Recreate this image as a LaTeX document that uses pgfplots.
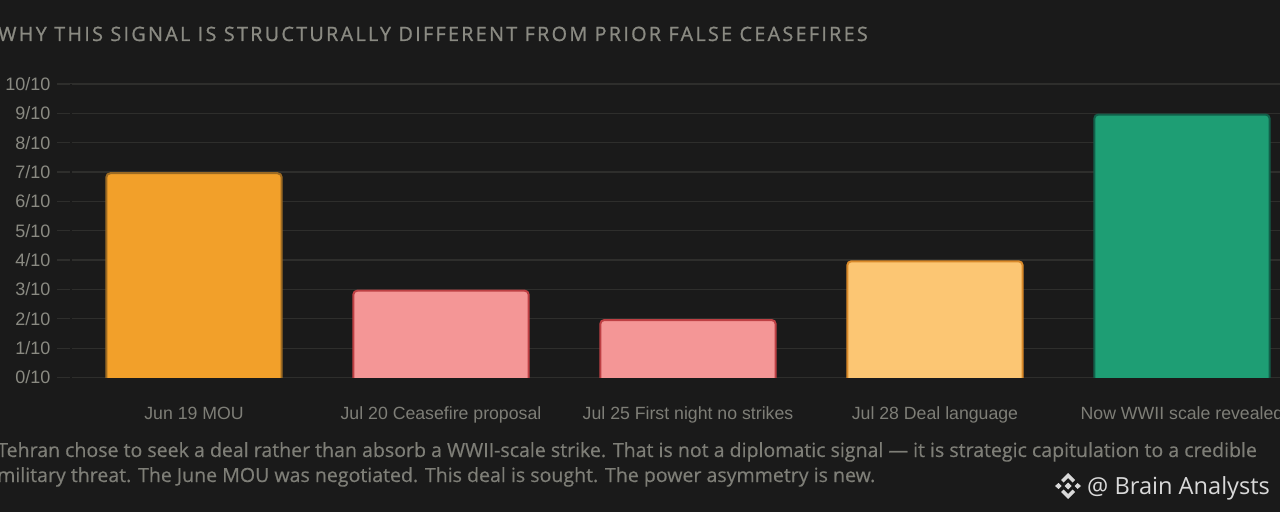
\documentclass[border=0pt]{standalone}
\usepackage{fontspec}
\usepackage{pgfplots}
\pgfplotsset{compat=1.18}
\setmainfont{Liberation Sans}
\newfontfamily\titlefont[LetterSpace=11.5,FakeBold=1]{Open Sans}
\newfontfamily\bodyfont[FakeBold=0.4]{Open Sans}
\newfontfamily\markfont{Open Sans}
\definecolor{bg}{HTML}{1A1A1A}
\definecolor{gridc}{HTML}{2E2E2C}
\definecolor{tickc}{HTML}{8A8A82}
\definecolor{labc}{HTML}{7E7E77}
\definecolor{orangef}{HTML}{F2A02A}
\definecolor{oranged}{HTML}{9C6A22}
\definecolor{pinkf}{HTML}{F49696}
\definecolor{pinkd}{HTML}{BE4044}
\definecolor{ambf}{HTML}{FCC673}
\definecolor{ambd}{HTML}{D98A2A}
\definecolor{greenf}{HTML}{1E9E74}
\definecolor{greend}{HTML}{12604A}
\pgfplotsset{bar/.style={line width=2pt,rounded corners=4pt,yshift=-1.2pt}}
\begin{document}
\begin{tikzpicture}[x=1pt,y=1pt]
\fill[bg] (0,0) rectangle (1280,512);
\path[use as bounding box,clip] (0,0) rectangle (1280,512);
\begin{axis}[
    at={(70.5pt,134.5pt)},
    anchor=south west,
    scale only axis,
    width=1209.5pt,
    height=293.5pt,
    xmin=-0.5, xmax=4.397,
    ymin=0, ymax=10,
    xtick={0,1,2,3,4},
    xticklabels={Jun 19 MOU,Jul 20 Ceasefire proposal,Jul 25 First night no strikes,Jul 28 Deal language,Now WWII scale revealed},
    ytick={0,1,2,3,4,5,6,7,8,9,10},
    yticklabels={0/10,1/10,2/10,3/10,4/10,5/10,6/10,7/10,8/10,9/10,10/10},
    ymajorgrids=true,
    grid style={gridc,line width=1.3pt},
    axis x line*=bottom,
    axis y line*=left,
    x axis line style={gridc,line width=1.3pt,-},
    y axis line style={bg,line width=2pt,-},
    xtick style={draw=none},
    ytick style={gridc,line width=1.3pt},
    tick align=outside,
    major tick length=14pt,
    xticklabel style={font=\fontsize{17.7}{19}\selectfont,text=labc,yshift=-15pt,inner sep=0pt},
    yticklabel style={font=\fontsize{18}{20}\selectfont,text=tickc,inner sep=0pt,xshift=-6pt,anchor=east},
]
\addplot[bar,fill=orangef,draw=oranged] coordinates {(-0.355,0) (-0.355,7) (0.355,7) (0.355,0)};
\addplot[bar,fill=pinkf,draw=pinkd] coordinates {(0.645,0) (0.645,3) (1.355,3) (1.355,0)};
\addplot[bar,fill=pinkf,draw=pinkd] coordinates {(1.645,0) (1.645,2) (2.355,2) (2.355,0)};
\addplot[bar,fill=ambf,draw=ambd] coordinates {(2.645,0) (2.645,4) (3.355,4) (3.355,0)};
\addplot[bar,fill=greenf,draw=greend] coordinates {(3.645,0) (3.645,9) (4.355,9) (4.355,0)};
\end{axis}
\node[anchor=base west,inner sep=0pt,text=tickc,font=\titlefont\fontsize{19.8}{21}\selectfont] at (-2,471) {WHY THIS SIGNAL IS STRUCTURALLY DIFFERENT FROM PRIOR FALSE CEASEFIRES};
\node[anchor=base west,inner sep=0pt,text=labc,font=\bodyfont\fontsize{19.55}{21}\selectfont] at (-3,55) {Tehran chose to seek a deal rather than absorb a WWII-scale strike. That is not a diplomatic signal — it is strategic capitulation to a credible};
\node[anchor=base west,inner sep=0pt,text=labc,font=\bodyfont\fontsize{19.55}{21}\selectfont] at (-3,30) {military threat. The June MOU was negotiated. This deal is sought. The power asymmetry is new.};
\node[anchor=base west,inner sep=0pt,text=white!85!black,font=\markfont\fontsize{23.6}{26}\selectfont] at (1087,18) {@ Brain Analysts};
% watermark logo
\begin{scope}[shift={(1068,26)}]
\fill[white!85!black] (0,13) -- (7,6) -- (4.5,3.5) -- (0,8) -- (-4.5,3.5) -- (-7,6) -- cycle;
\fill[white!85!black] (0,-13) -- (7,-6) -- (4.5,-3.5) -- (0,-8) -- (-4.5,-3.5) -- (-7,-6) -- cycle;
\fill[white!85!black] (0,3.5) -- (3.5,0) -- (0,-3.5) -- (-3.5,0) -- cycle;
\fill[white!85!black] (-9.5,3) -- (-6.5,0) -- (-9.5,-3) -- (-13,0) -- cycle;
\fill[white!85!black] (9.5,3) -- (6.5,0) -- (9.5,-3) -- (13,0) -- cycle;
\end{scope}
\end{tikzpicture}
\end{document}
